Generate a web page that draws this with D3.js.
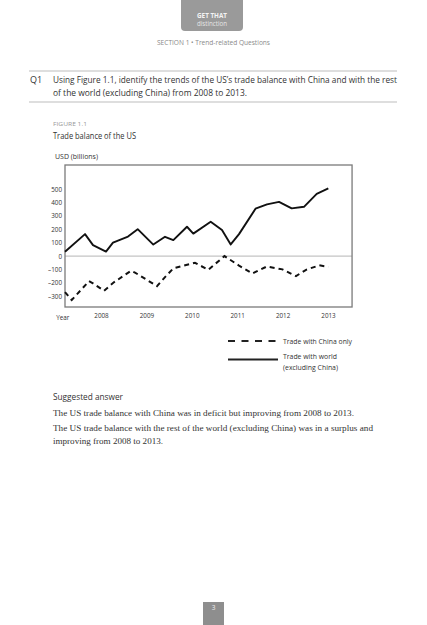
<!DOCTYPE html>
<html><head><meta charset="utf-8">
<script src="https://cdn.jsdelivr.net/npm/d3@7"></script>
<style>
html,body{margin:0;padding:0;background:#fff;}
svg{display:block;font-family:"Open Sans","Noto Sans",sans-serif;}
</style></head>
<body>
<script>
// ---- data ----
const yearTicks = [2008, 2009, 2010, 2011, 2012, 2013];
const yTicks = [500, 400, 300, 200, 100, 0, -100, -200, -300];
const worldX = [2007.207, 2007.648, 2007.824, 2008.110, 2008.264, 2008.595, 2008.808, 2009.152, 2009.410, 2009.593, 2009.894, 2010.033, 2010.416, 2010.665, 2010.857, 2011.040, 2011.403, 2011.656, 2011.921, 2012.200, 2012.471, 2012.751, 2013.007];
const worldY = [32, 164, 82, 34, 100, 146, 201, 86, 144, 119, 219, 168, 256, 194, 87, 164, 354, 386, 405, 356, 368, 465, 505];
const chinaX = [2007.207, 2007.355, 2007.736, 2007.813, 2008.066, 2008.271, 2008.661, 2008.749, 2009.233, 2009.410, 2009.593, 2009.828, 2010.070, 2010.363, 2010.720, 2011.040, 2011.337, 2011.650, 2011.998, 2012.295, 2012.526, 2012.808, 2013.007];
const chinaY = [-269, -328, -187, -201, -259, -199, -110, -123, -224, -157, -92, -71, -50, -102, 0, -71, -129, -78, -99, -149, -101, -69, -80];
const seriesNames = ["Trade with China only", "Trade with world", "(excluding China)"];

const W = 427, H = 625;
const svg = d3.select("body").append("svg").attr("width", W).attr("height", H);

function txt(x, y, s, o) {
  o = o || {};
  const t = svg.append("text").attr("x", x).attr("y", y).text(s)
    .attr("font-size", o.size || 8).attr("fill", o.fill || "#333");
  if (o.anchor) t.attr("text-anchor", o.anchor);
  if (o.weight) t.attr("font-weight", o.weight);
  if (o.family) t.style("font-family", o.family);
  if (o.len) t.attr("textLength", o.len).attr("lengthAdjust", "spacingAndGlyphs");
  return t;
}

// ---- header ----
svg.append("path")
  .attr("d", "M181,0 H243 V27 Q243,31 239,31 H185 Q181,31 181,27 Z")
  .attr("fill", "#9a9a9a");
txt(212, 18, "GET THAT", {size: 7, fill: "#f4f4f4", anchor: "middle", weight: "bold", len: 30});
txt(212, 25.5, "distinction", {size: 6.5, fill: "#e6e6e6", anchor: "middle", len: 30});
txt(213.5, 45, "SECTION 1 \u2022 Trend-related Questions", {size: 6.5, fill: "#8a8a8a", anchor: "middle", len: 113});

svg.append("line").attr("x1", 29).attr("x2", 397).attr("y1", 71).attr("y2", 71).attr("stroke", "#bdbdbd").attr("stroke-width", 1.2);
txt(30, 83, "Q1", {size: 9, fill: "#333"});
txt(53, 83, "Using Figure 1.1, identify the trends of the US\u2019s trade balance with China and with the rest", {size: 9, fill: "#333", len: 344});
txt(53, 96, "of the world (excluding China) from 2008 to 2013.", {size: 9, fill: "#333", len: 194});
svg.append("line").attr("x1", 29).attr("x2", 397).attr("y1", 102).attr("y2", 102).attr("stroke", "#bdbdbd").attr("stroke-width", 1.2);

txt(53, 126, "FIGURE 1.1", {size: 6, fill: "#999", len: 34});
txt(53, 139, "Trade balance of the US", {size: 8.5, fill: "#333", len: 83});
txt(55, 159, "USD (billions)", {size: 6.8, fill: "#333", len: 43});

// ---- chart ----
const x = d3.scaleLinear().domain([2008, 2013]).range([101, 328]);
const y = d3.scaleLinear().domain([-380, 680]).range([307, 165]);
const xLeft = x(2007.207), xRight = x(2013.53);

svg.append("line").attr("x1", xLeft).attr("x2", xRight).attr("y1", y(0)).attr("y2", y(0))
  .attr("stroke", "#b5b5b5").attr("stroke-width", 1);

svg.append("rect").attr("x", xLeft).attr("y", y(680)).attr("width", xRight - xLeft).attr("height", y(-380) - y(680))
  .attr("fill", "none").attr("stroke", "#7a7a7a").attr("stroke-width", 1.3);

const yAxis = svg.append("g").attr("transform", `translate(${xLeft - 2},0)`)
  .call(d3.axisLeft(y).tickValues(yTicks).tickSize(0).tickPadding(1).tickFormat(d => d < 0 ? "\u2013" + Math.abs(d) : d));
yAxis.select(".domain").remove();
yAxis.selectAll("text").attr("font-size", 6.3).attr("fill", "#333").style("font-family", "\"Open Sans\",sans-serif");

const xAxis = svg.append("g").attr("transform", `translate(0,${y(-380)})`)
  .call(d3.axisBottom(x).tickValues(yearTicks).tickSize(0).tickPadding(6.5).tickFormat(d3.format("d")));
xAxis.select(".domain").remove();
xAxis.selectAll("text").attr("font-size", 6.3).attr("fill", "#333").style("font-family", "\"Open Sans\",sans-serif");
txt(x(2007.16), y(-380) + 13, "Year", {size: 6.3, fill: "#333", anchor: "middle"});

const line = d3.line().x(d => x(d[0])).y(d => y(d[1]));
svg.append("path").datum(d3.zip(worldX, worldY)).attr("d", line)
  .attr("fill", "none").attr("stroke", "#111").attr("stroke-width", 1.9).attr("stroke-linejoin", "round");
svg.append("path").datum(d3.zip(chinaX, chinaY)).attr("d", line)
  .attr("fill", "none").attr("stroke", "#111").attr("stroke-width", 2).attr("stroke-dasharray", "5,4");

// legend
svg.append("line").attr("x1", 228).attr("x2", 278).attr("y1", 341).attr("y2", 341)
  .attr("stroke", "#222").attr("stroke-width", 2).attr("stroke-dasharray", "7,6.5");
txt(283, 343.5, seriesNames[0], {size: 6.8, fill: "#333", len: 69});
svg.append("line").attr("x1", 228).attr("x2", 278).attr("y1", 359.5).attr("y2", 359.5)
  .attr("stroke", "#222").attr("stroke-width", 2);
txt(283, 359, seriesNames[1], {size: 6.8, fill: "#333", len: 54});
txt(283, 369.5, seriesNames[2], {size: 6.8, fill: "#333", len: 55});

// ---- answer ----
txt(53, 400, "Suggested answer", {size: 9, fill: "#333", len: 70});
const serif = "\"Liberation Serif\",\"DejaVu Serif\",serif";
txt(53, 416, "The US trade balance with China was in deficit but improving from 2008 to 2013.", {size: 9, fill: "#333", family: serif, len: 301});
txt(53, 431, "The US trade balance with the rest of the world (excluding China) was in a surplus and", {size: 9, fill: "#333", family: serif, len: 320});
txt(53, 444, "improving from 2008 to 2013.", {size: 9, fill: "#333", family: serif, len: 110});

// ---- page number ----
svg.append("rect").attr("x", 203).attr("y", 602).attr("width", 21).attr("height", 23).attr("fill", "#8e8e8e");
txt(213.5, 610, "3", {size: 6.5, fill: "#eee", anchor: "middle"});
</script>
</body></html>
